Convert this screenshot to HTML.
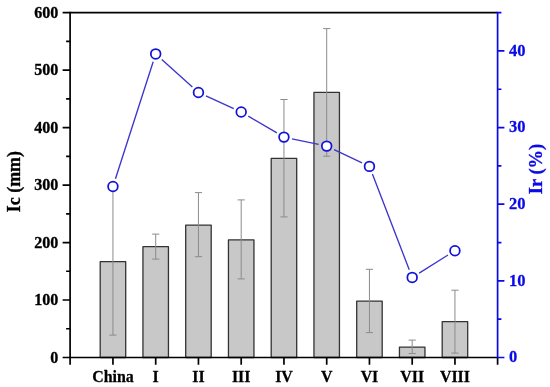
<!DOCTYPE html><html><head><meta charset="utf-8"><title>Chart</title><style>html,body{margin:0;padding:0;background:#fff}svg{display:block}</style></head><body><svg width="550" height="387" viewBox="0 0 550 387">
<rect width="550" height="387" fill="#fff"/>
<rect x="100.20" y="261.70" width="25.5" height="95.80" fill="#c8c8c8" stroke="#333" stroke-width="1.3" stroke-linejoin="round"/>
<rect x="142.95" y="246.70" width="25.5" height="110.80" fill="#c8c8c8" stroke="#333" stroke-width="1.3" stroke-linejoin="round"/>
<rect x="185.70" y="225.10" width="25.5" height="132.40" fill="#c8c8c8" stroke="#333" stroke-width="1.3" stroke-linejoin="round"/>
<rect x="228.45" y="239.90" width="25.5" height="117.60" fill="#c8c8c8" stroke="#333" stroke-width="1.3" stroke-linejoin="round"/>
<rect x="271.20" y="158.30" width="25.5" height="199.20" fill="#c8c8c8" stroke="#333" stroke-width="1.3" stroke-linejoin="round"/>
<rect x="313.95" y="92.40" width="25.5" height="265.10" fill="#c8c8c8" stroke="#333" stroke-width="1.3" stroke-linejoin="round"/>
<rect x="356.70" y="301.10" width="25.5" height="56.40" fill="#c8c8c8" stroke="#333" stroke-width="1.3" stroke-linejoin="round"/>
<rect x="399.45" y="347.10" width="25.5" height="10.40" fill="#c8c8c8" stroke="#333" stroke-width="1.3" stroke-linejoin="round"/>
<rect x="442.20" y="321.70" width="25.5" height="35.80" fill="#c8c8c8" stroke="#333" stroke-width="1.3" stroke-linejoin="round"/>
<path d="M112.95 188.30V335.10M109.35 188.30h7.2M109.35 335.10h7.2" stroke="#8c8c8c" stroke-width="1" fill="none"/>
<path d="M155.70 234.10V259.10M152.10 234.10h7.2M152.10 259.10h7.2" stroke="#8c8c8c" stroke-width="1" fill="none"/>
<path d="M198.45 192.60V256.70M194.85 192.60h7.2M194.85 256.70h7.2" stroke="#8c8c8c" stroke-width="1" fill="none"/>
<path d="M241.20 199.90V278.90M237.60 199.90h7.2M237.60 278.90h7.2" stroke="#8c8c8c" stroke-width="1" fill="none"/>
<path d="M283.95 99.50V216.90M280.35 99.50h7.2M280.35 216.90h7.2" stroke="#8c8c8c" stroke-width="1" fill="none"/>
<path d="M326.70 28.60V156.20M323.10 28.60h7.2M323.10 156.20h7.2" stroke="#8c8c8c" stroke-width="1" fill="none"/>
<path d="M369.45 269.30V332.60M365.85 269.30h7.2M365.85 332.60h7.2" stroke="#8c8c8c" stroke-width="1" fill="none"/>
<path d="M412.20 340.10V353.50M408.60 340.10h7.2M408.60 353.50h7.2" stroke="#8c8c8c" stroke-width="1" fill="none"/>
<path d="M454.95 290.20V353.10M451.35 290.20h7.2M451.35 353.10h7.2" stroke="#8c8c8c" stroke-width="1" fill="none"/>
<path d="M70.1 12.6H497.6" stroke="#000" stroke-width="1.7" fill="none"/>
<path d="M70.1 11.75V364.7" stroke="#000" stroke-width="1.7" fill="none"/>
<path d="M69.25 357.5H497.6" stroke="#000" stroke-width="1.7" fill="none"/>
<path d="M70.1 357.50h-7.5M70.1 328.76h-4M70.1 300.02h-7.5M70.1 271.27h-4M70.1 242.53h-7.5M70.1 213.79h-4M70.1 185.05h-7.5M70.1 156.31h-4M70.1 127.57h-7.5M70.1 98.82h-4M70.1 70.08h-7.5M70.1 41.34h-4M70.1 12.60h-7.5M112.95 357.5v7.2M155.70 357.5v7.2M198.45 357.5v7.2M241.20 357.5v7.2M283.95 357.5v7.2M326.70 357.5v7.2M369.45 357.5v7.2M412.20 357.5v7.2M454.95 357.5v7.2M497.6 357.5v7.2" stroke="#000" stroke-width="1.7" fill="none"/>
<path d="M497.6 11.75V358.35M497.6 357.50h6.8M497.6 319.18h3.8M497.6 280.86h6.8M497.6 242.53h3.8M497.6 204.21h6.8M497.6 165.89h3.8M497.6 127.57h6.8M497.6 89.24h3.8M497.6 50.92h6.8M497.6 12.60h3.8" stroke="#0a0ae6" stroke-width="1.7" fill="none"/>
<path d="M115.47 178.70L153.18 61.70M161.79 59.40L192.36 87.00M205.91 95.90L233.74 108.60M248.27 116.15L276.88 132.95M291.97 138.79L318.68 144.41M334.11 149.62L362.04 162.88M372.40 174.05L409.25 269.75M419.15 273.06L448.00 255.04" stroke="#3c36cc" stroke-width="1.35" fill="none"/>
<circle cx="112.95" cy="186.50" r="4.85" fill="#fff" stroke="#1212d8" stroke-width="1.75"/>
<circle cx="155.70" cy="53.90" r="4.85" fill="#fff" stroke="#1212d8" stroke-width="1.75"/>
<circle cx="198.45" cy="92.50" r="4.85" fill="#fff" stroke="#1212d8" stroke-width="1.75"/>
<circle cx="241.20" cy="112.00" r="4.85" fill="#fff" stroke="#1212d8" stroke-width="1.75"/>
<circle cx="283.95" cy="137.10" r="4.85" fill="#fff" stroke="#1212d8" stroke-width="1.75"/>
<circle cx="326.70" cy="146.10" r="4.85" fill="#fff" stroke="#1212d8" stroke-width="1.75"/>
<circle cx="369.45" cy="166.40" r="4.85" fill="#fff" stroke="#1212d8" stroke-width="1.75"/>
<circle cx="412.20" cy="277.40" r="4.85" fill="#fff" stroke="#1212d8" stroke-width="1.75"/>
<circle cx="454.95" cy="250.70" r="4.85" fill="#fff" stroke="#1212d8" stroke-width="1.75"/>
<text transform="translate(58.4 362.55) scale(1,1.06)" text-anchor="end" font-size="16.1" font-family="Liberation Serif, Times New Roman, serif" font-weight="bold" fill="#000" stroke="#000" stroke-width="0.3">0</text>
<text transform="translate(58.4 305.07) scale(1,1.06)" text-anchor="end" font-size="16.1" font-family="Liberation Serif, Times New Roman, serif" font-weight="bold" fill="#000" stroke="#000" stroke-width="0.3">100</text>
<text transform="translate(58.4 247.58) scale(1,1.06)" text-anchor="end" font-size="16.1" font-family="Liberation Serif, Times New Roman, serif" font-weight="bold" fill="#000" stroke="#000" stroke-width="0.3">200</text>
<text transform="translate(58.4 190.10) scale(1,1.06)" text-anchor="end" font-size="16.1" font-family="Liberation Serif, Times New Roman, serif" font-weight="bold" fill="#000" stroke="#000" stroke-width="0.3">300</text>
<text transform="translate(58.4 132.62) scale(1,1.06)" text-anchor="end" font-size="16.1" font-family="Liberation Serif, Times New Roman, serif" font-weight="bold" fill="#000" stroke="#000" stroke-width="0.3">400</text>
<text transform="translate(58.4 75.13) scale(1,1.06)" text-anchor="end" font-size="16.1" font-family="Liberation Serif, Times New Roman, serif" font-weight="bold" fill="#000" stroke="#000" stroke-width="0.3">500</text>
<text transform="translate(58.4 17.65) scale(1,1.06)" text-anchor="end" font-size="16.1" font-family="Liberation Serif, Times New Roman, serif" font-weight="bold" fill="#000" stroke="#000" stroke-width="0.3">600</text>
<text transform="translate(509 362.20) scale(1,1.04)" font-size="16.5" font-family="Liberation Serif, Times New Roman, serif" font-weight="bold" fill="#0a0ae6" stroke="#0a0ae6" stroke-width="0.25">0</text>
<text transform="translate(509 285.56) scale(1,1.04)" font-size="16.5" font-family="Liberation Serif, Times New Roman, serif" font-weight="bold" fill="#0a0ae6" stroke="#0a0ae6" stroke-width="0.25">10</text>
<text transform="translate(509 208.91) scale(1,1.04)" font-size="16.5" font-family="Liberation Serif, Times New Roman, serif" font-weight="bold" fill="#0a0ae6" stroke="#0a0ae6" stroke-width="0.25">20</text>
<text transform="translate(509 132.27) scale(1,1.04)" font-size="16.5" font-family="Liberation Serif, Times New Roman, serif" font-weight="bold" fill="#0a0ae6" stroke="#0a0ae6" stroke-width="0.25">30</text>
<text transform="translate(509 55.62) scale(1,1.04)" font-size="16.5" font-family="Liberation Serif, Times New Roman, serif" font-weight="bold" fill="#0a0ae6" stroke="#0a0ae6" stroke-width="0.25">40</text>
<text transform="translate(112.95 381.5) scale(1,1.03)" text-anchor="middle" font-size="15.9" font-family="Liberation Serif, Times New Roman, serif" font-weight="bold" fill="#000" stroke="#000" stroke-width="0.25">China</text>
<text transform="translate(155.70 381.5) scale(1,1.03)" text-anchor="middle" font-size="15.9" font-family="Liberation Serif, Times New Roman, serif" font-weight="bold" fill="#000" stroke="#000" stroke-width="0.25">I</text>
<text transform="translate(198.45 381.5) scale(1,1.03)" text-anchor="middle" font-size="15.9" font-family="Liberation Serif, Times New Roman, serif" font-weight="bold" fill="#000" stroke="#000" stroke-width="0.25">II</text>
<text transform="translate(241.20 381.5) scale(1,1.03)" text-anchor="middle" font-size="15.9" font-family="Liberation Serif, Times New Roman, serif" font-weight="bold" fill="#000" stroke="#000" stroke-width="0.25">III</text>
<text transform="translate(283.95 381.5) scale(1,1.03)" text-anchor="middle" font-size="15.9" font-family="Liberation Serif, Times New Roman, serif" font-weight="bold" fill="#000" stroke="#000" stroke-width="0.25">IV</text>
<text transform="translate(326.70 381.5) scale(1,1.03)" text-anchor="middle" font-size="15.9" font-family="Liberation Serif, Times New Roman, serif" font-weight="bold" fill="#000" stroke="#000" stroke-width="0.25">V</text>
<text transform="translate(369.45 381.5) scale(1,1.03)" text-anchor="middle" font-size="15.9" font-family="Liberation Serif, Times New Roman, serif" font-weight="bold" fill="#000" stroke="#000" stroke-width="0.25">VI</text>
<text transform="translate(412.20 381.5) scale(1,1.03)" text-anchor="middle" font-size="15.9" font-family="Liberation Serif, Times New Roman, serif" font-weight="bold" fill="#000" stroke="#000" stroke-width="0.25">VII</text>
<text transform="translate(454.95 381.5) scale(1,1.03)" text-anchor="middle" font-size="15.9" font-family="Liberation Serif, Times New Roman, serif" font-weight="bold" fill="#000" stroke="#000" stroke-width="0.25">VIII</text>
<text transform="translate(19.9 181.6) rotate(-90) scale(1.02,1.07)" text-anchor="middle" font-size="17.6" font-family="Liberation Serif, Times New Roman, serif" font-weight="bold" fill="#000" stroke="#000" stroke-width="0.3">Ic (mm)</text>
<text transform="translate(542.1 169.0) rotate(-90) scale(1.03,1.06)" text-anchor="middle" font-size="18" font-family="Liberation Serif, Times New Roman, serif" font-weight="bold" fill="#0a0ae6" stroke="#0a0ae6" stroke-width="0.3">Ir (%)</text>
</svg></body></html>
